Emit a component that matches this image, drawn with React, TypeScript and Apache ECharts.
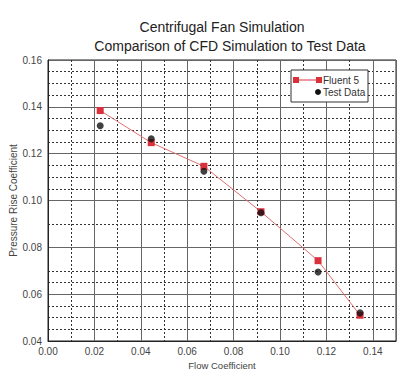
import React, { useEffect, useRef } from "react";
import * as echarts from "echarts";

const titleLines = ["Centrifugal Fan Simulation", "Comparison of CFD Simulation to Test Data"];
const xName = "Flow Coefficient";
const yName = "Pressure Rise Coefficient";
const legendNames = ["Fluent 5", "Test Data"];

const flowFluent = [0.0225, 0.0445, 0.0672, 0.0918, 0.1164, 0.1345];
const pressureFluent = [0.1384, 0.1247, 0.1146, 0.0952, 0.0743, 0.051];
const flowTest = [0.0225, 0.0445, 0.0672, 0.0918, 0.1164, 0.1345];
const pressureTest = [0.1319, 0.1264, 0.1125, 0.0948, 0.0695, 0.052];

const xMin = 0, xMax = 0.15, xMajor = 0.02, xMinor = 0.01;
const yMin = 0.04, yMax = 0.16, yMajor = 0.02, yMinor = 0.005;
// minor horizontal grid lines absent in the reference
const yMissingMinor = [0.075, 0.085, 0.095];

const FONT = '"Liberation Sans", Arial, sans-serif';

export default function App() {
  const ref = useRef<HTMLDivElement>(null);
  useEffect(() => {
    document.body.style.margin = "0";
    const chart = echarts.init(ref.current!, null, { renderer: "svg" });

    const nY = Math.round((yMax - yMin) / yMinor);
    const yMinorColors: string[] = [];
    for (let i = 0; i <= nY; i++) {
      const v = yMin + i * yMinor;
      const missing = yMissingMinor.some((m) => Math.abs(m - v) < 1e-6);
      yMinorColors.push(missing ? "rgba(0,0,0,0)" : "#333");
    }

    const solidLine = { show: true, lineStyle: { color: "#666", width: 1, type: "solid" } };
    const dottedLine = (colors: any) => ({ show: true, lineStyle: { color: colors, width: 1, type: [2, 2] } });

    chart.setOption({
      animation: false,
      textStyle: { fontFamily: FONT },
      grid: {
        left: 48, right: 10, top: 60, bottom: 35, show: true, borderColor: "#222", borderWidth: 1,
        backgroundColor: "#fff", containLabel: false, outerBoundsMode: "none",
      },
      xAxis: [
        {
          type: "value", min: xMin, max: xMax, interval: xMinor, position: "bottom", offset: 0,
          axisLine: { show: false }, axisTick: { show: false }, axisLabel: { show: false },
          splitLine: dottedLine("#333"),
        },
        {
          type: "value", min: xMin, max: xMax, interval: xMajor, position: "bottom", offset: 0,
          axisLine: { show: true, lineStyle: { color: "#222" } }, axisTick: { show: false },
          axisLabel: { fontSize: 10, color: "#444", margin: 5, showMaxLabel: false, formatter: (v: number) => v.toFixed(2) },
          splitLine: solidLine,
          name: xName, nameLocation: "middle", nameGap: 19,
          nameTextStyle: { fontSize: 9.5, color: "#444", fontFamily: FONT },
        },
      ],
      yAxis: [
        {
          type: "value", min: yMin, max: yMax, interval: yMinor, position: "left", offset: 0,
          axisLine: { show: false }, axisTick: { show: false }, axisLabel: { show: false },
          splitLine: dottedLine(yMinorColors),
        },
        {
          type: "value", min: yMin, max: yMax, interval: yMajor, position: "left", offset: 0,
          axisLine: { show: true, lineStyle: { color: "#222" } }, axisTick: { show: false },
          axisLabel: { fontSize: 10, color: "#444", margin: 6, formatter: (v: number) => v.toFixed(2) },
          splitLine: solidLine,
          name: yName, nameLocation: "middle", nameGap: 30, nameMoveOverlap: false,
          nameTextStyle: { fontSize: 10, color: "#444", fontFamily: FONT },
        },
      ],
      series: [
        {
          name: legendNames[0], type: "line", xAxisIndex: 1, yAxisIndex: 1,
          data: flowFluent.map((x, i) => [x, pressureFluent[i]]),
          symbol: "rect", symbolSize: 7,
          itemStyle: { color: "#d9303c" },
          lineStyle: { color: "#e07070", width: 1 },
          z: 3,
        },
        {
          name: legendNames[1], type: "scatter", xAxisIndex: 1, yAxisIndex: 1,
          data: flowTest.map((x, i) => [x, pressureTest[i]]),
          symbol: "circle", symbolSize: 7,
          itemStyle: { color: "#111" },
          z: 4,
        },
      ],
      graphic: [
        { type: "text", x: 222, y: 27, z: 100, style: { text: titleLines[0], font: `14px ${FONT}`, fill: "#222", align: "center", verticalAlign: "middle", textAlign: "center", textVerticalAlign: "middle" } },
        { type: "text", x: 230, y: 46, z: 100, style: { text: titleLines[1], font: `14px ${FONT}`, fill: "#222", align: "center", verticalAlign: "middle", textAlign: "center", textVerticalAlign: "middle" } },
        { type: "rect", z: 100, shape: { x: 291, y: 70, width: 77, height: 32 }, style: { fill: "#fff", stroke: "#333", lineWidth: 1 } },
        { type: "line", z: 101, shape: { x1: 296, y1: 80, x2: 319, y2: 80 }, style: { stroke: "#d9303c", lineWidth: 1 } },
        { type: "rect", z: 102, shape: { x: 293, y: 77, width: 6, height: 6 }, style: { fill: "#d9303c" } },
        { type: "rect", z: 102, shape: { x: 316, y: 77, width: 6, height: 6 }, style: { fill: "#d9303c" } },
        { type: "text", x: 323, y: 80, z: 102, style: { text: legendNames[0], font: `10px ${FONT}`, fill: "#333", align: "left", verticalAlign: "middle", textAlign: "left", textVerticalAlign: "middle" } },
        { type: "circle", z: 102, shape: { cx: 318, cy: 92, r: 3 }, style: { fill: "#111" } },
        { type: "text", x: 323, y: 92, z: 102, style: { text: legendNames[1], font: `10px ${FONT}`, fill: "#333", align: "left", verticalAlign: "middle", textAlign: "left", textVerticalAlign: "middle" } },
      ],
    });
    return () => chart.dispose();
  }, []);
  return <div ref={ref} style={{ width: 406, height: 376 }} />;
}
